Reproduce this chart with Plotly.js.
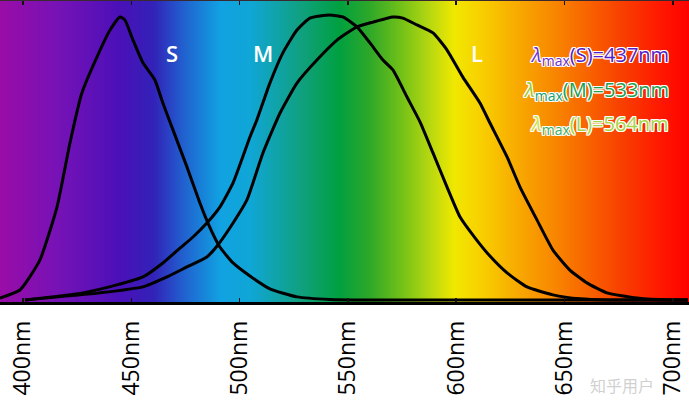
<!DOCTYPE html>
<html>
<head>
<meta charset="utf-8">
<script src="https://cdn.plot.ly/plotly-3.0.1.min.js"></script>
<style>html,body{margin:0;padding:0;background:#fff;}#chart{width:689px;height:413px;}</style>
</head>
<body>
<div id="chart"></div>
<script>
// ---- data ----
const wavelengthS = [389.4, 398.6, 407.8, 415.7, 421.7, 427.2, 434.2, 440.2, 444.8, 447.1, 450.8, 455.4, 460.9, 464.6, 469.3, 475.7, 481.7, 485.4, 490.9, 497.0, 504.8, 514.0, 526.5, 541.7, 560, 600, 650, 707];
const sensS       = [0.007, 0.035, 0.140, 0.326, 0.551, 0.726, 0.853, 0.947, 0.993, 0.982, 0.912, 0.832, 0.772, 0.691, 0.596, 0.467, 0.340, 0.270, 0.186, 0.130, 0.084, 0.039, 0.011, 0.002, 0.0, 0.0, 0.0, 0.0];

const wavelengthM = [400.9, 427.7, 443.4, 455.4, 464.6, 472.5, 478.5, 484.9, 490.9, 497.0, 504.8, 508.0, 514.0, 520.0, 526.5, 532.5, 541.7, 547.7, 554.2, 560.2, 566.2, 570.8, 577.3, 583.3, 589.3, 595.8, 601.8, 608.7, 615.6, 623.5, 632.7, 644.7, 657.2, 671.0, 707];
const sensM       = [0.0, 0.025, 0.053, 0.081, 0.130, 0.182, 0.221, 0.270, 0.326, 0.411, 0.572, 0.632, 0.761, 0.867, 0.947, 0.989, 1.0, 0.993, 0.958, 0.902, 0.842, 0.807, 0.712, 0.625, 0.516, 0.396, 0.291, 0.218, 0.154, 0.095, 0.046, 0.018, 0.004, 0.0, 0.0];

const wavelengthL = [400.9, 435.5, 455.4, 466.5, 475.7, 484.9, 490.0, 497.0, 503.4, 510.8, 518.7, 526.5, 535.7, 545.0, 554.2, 561.6, 570.8, 575.4, 581.9, 589.3, 595.8, 603.1, 611.0, 615.6, 623.5, 629.5, 637.3, 644.7, 652.5, 660.4, 669.6, 683.5, 698.7, 707];
const sensL       = [0.0, 0.025, 0.046, 0.081, 0.116, 0.151, 0.193, 0.270, 0.351, 0.516, 0.656, 0.761, 0.842, 0.912, 0.958, 0.975, 0.993, 0.989, 0.965, 0.937, 0.877, 0.782, 0.691, 0.621, 0.502, 0.396, 0.281, 0.175, 0.105, 0.060, 0.025, 0.007, 0.0, 0.0];

const tickValues = [400, 450, 500, 550, 600, 650, 700];
const tickLabels = ['400nm', '450nm', '500nm', '550nm', '600nm', '650nm', '700nm'];

const curveLabels = ['S', 'M', 'L'];
const curveLabelX = [468.8, 510.8, 609.6];
const peakLabels = ['437nm', '533nm', '564nm'];

// spectrum background stops
const spectrumNm = [389, 415, 445, 460, 475, 491, 505, 528, 546, 560, 574, 588, 599, 611, 629, 648, 676, 694, 708];
const spectrumColors = ['#9a0ca6', '#7812b6', '#4a10b8', '#3222b8', '#2064d0', '#10a2e2', '#10a6d6', '#10a080', '#00a040', '#30a828', '#70c018', '#b8d810', '#f0e800', '#f8d000', '#f8a800', '#f88000', '#f84000', '#ff1800', '#ff0000'];

// ---- build ----
const nmMin = spectrumNm[0], nmMax = spectrumNm[spectrumNm.length - 1];
const colorscale = spectrumNm.map((w, i) => [(w - nmMin) / (nmMax - nmMin), spectrumColors[i]]);

const traces = [
  {type: 'heatmap', x: spectrumNm, y: [-0.05, 1.1], z: [spectrumNm, spectrumNm],
   colorscale: colorscale, zmin: nmMin, zmax: nmMax, zsmooth: 'best', showscale: false, hoverinfo: 'skip'},
  {type: 'scatter', mode: 'lines', x: wavelengthS, y: sensS, line: {color: '#000', width: 3, shape: 'spline', smoothing: 0.5}, hoverinfo: 'skip'},
  {type: 'scatter', mode: 'lines', x: wavelengthM, y: sensM, line: {color: '#000', width: 3, shape: 'spline', smoothing: 0.5}, hoverinfo: 'skip'},
  {type: 'scatter', mode: 'lines', x: wavelengthL, y: sensL, line: {color: '#000', width: 3, shape: 'spline', smoothing: 0.5}, hoverinfo: 'skip'}
];

// plot area spans pixel rows 1..302
const plotTop = 1, plotBottom = 302;
const pyToPaper = py => (plotBottom - py) / (plotBottom - plotTop);

const outline = '1px 1px 0 #fff, -1px -1px 0 #fff, 1px -1px 0 #fff, -1px 1px 0 #fff, 0 1px 0 #fff, 0 -1px 0 #fff, 1px 0 0 #fff, -1px 0 0 #fff';
const legendStyles = [
  {lam: '#7030d0', sub: '#7030d0', rest: '#5520c8', y: 56},
  {lam: '#a0c828', sub: '#10a078', rest: '#20a050', y: 91},
  {lam: '#d0e048', sub: '#40b060', rest: '#a8d448', y: 124}
];

const annotations = [];
curveLabels.forEach((t, i) => annotations.push({
  x: curveLabelX[i], y: (300 - 53) / 285, xref: 'x', yref: 'y', text: t, showarrow: false,
  font: {family: 'Open Sans', size: 22, color: '#fff', weight: 600}
}));
curveLabels.forEach((t, i) => {
  const s = legendStyles[i];
  annotations.push({
    x: 671 / 689, y: pyToPaper(s.y), xref: 'paper', yref: 'paper', xanchor: 'right', yanchor: 'middle',
    showarrow: false,
    text: '<span style="color:' + s.lam + '"><i>λ</i></span><sub><span style="color:' + s.sub + '">max</span></sub><span style="color:' + s.rest + '">(' + t + ')=' + peakLabels[i] + '</span>',
    font: {family: 'Open Sans', size: 20, color: s.rest, shadow: outline}
  });
});
annotations.push({
  x: 622 / 689, y: pyToPaper(385), xref: 'paper', yref: 'paper', showarrow: false,
  xanchor: 'center', yanchor: 'middle',
  text: '知乎用户', font: {family: 'Noto Sans CJK SC', size: 16, color: 'rgba(200,200,200,0.85)'}
});

const layout = {
  width: 689, height: 413,
  margin: {l: 0, r: 0, t: plotTop, b: 413 - plotBottom, pad: 0},
  paper_bgcolor: '#fff', plot_bgcolor: '#fff',
  showlegend: false,
  xaxis: {range: [389.4, 707.5], tickvals: tickValues, ticktext: tickLabels, tickangle: -90,
          ticks: 'inside', ticklen: 4, tickwidth: 1.5, tickcolor: '#111',
          showline: true, linecolor: '#000', linewidth: 2.5, showgrid: false, zeroline: false,
          tickfont: {family: 'Open Sans', size: 23, color: '#000'}, ticklabelstandoff: 7},
  xaxis2: {range: [389.4, 707.5], overlaying: 'x', side: 'top', tickvals: tickValues, showticklabels: false,
           ticks: 'inside', ticklen: 4, tickwidth: 1.5, tickcolor: '#111',
           showline: true, linecolor: '#3a2a30', linewidth: 1, showgrid: false, zeroline: false},
  yaxis: {range: [-0.007, 1.049], visible: false, showgrid: false, zeroline: false},
  annotations: annotations
};
traces.push({type: 'scatter', x: [400], y: [-1], xaxis: 'x2', mode: 'markers', hoverinfo: 'skip', marker: {opacity: 0}});

Plotly.newPlot('chart', traces, layout, {displayModeBar: false, staticPlot: true});
</script>
</body>
</html>
